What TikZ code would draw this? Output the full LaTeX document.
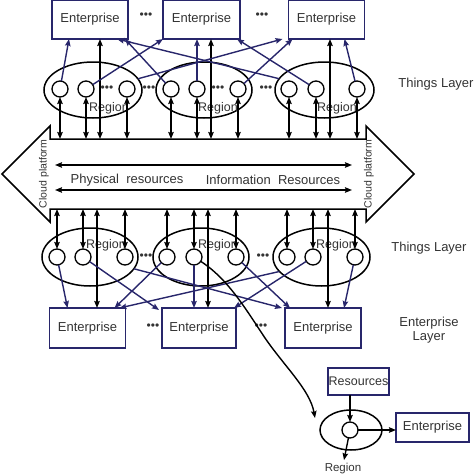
\documentclass[tikz,border=0pt]{standalone}
\usepackage{fontspec}
\setmainfont{Liberation Sans}
\usetikzlibrary{shapes.geometric,arrows.meta,calc}
\definecolor{navy}{HTML}{28266B}
\definecolor{txt}{HTML}{333333}
\begin{document}
\begin{tikzpicture}[x=1pt,y=-1pt,
  every node/.style={inner sep=0pt, outer sep=0pt, text=txt},
  tip/.tip={Stealth[length=7pt,width=5.5pt,inset=1pt]},
  ent/.style={draw=navy, line width=1.4pt, minimum width=76pt, minimum height=39pt, font=\fontsize{13}{15}\selectfont},
  reg/.style={draw, ellipse, line width=1.5pt, minimum width=98pt, minimum height=56pt},
  thing/.style={draw, circle, line width=1.3pt, minimum size=16pt},
  blk/.style={line width=1.4pt, tip-tip},
  blkone/.style={line width=1.4pt, -tip},
  blu/.style={draw=navy, line width=1.4pt, -tip},
  lbl/.style={font=\fontsize{13}{15}\selectfont},
  rlbl/.style={font=\fontsize{12.5}{14}\selectfont},
  dots/.style={font=\fontsize{12}{14}\selectfont},
]
\useasboundingbox (0,0) rectangle (474,474);

% ---------- top enterprises ----------
\node[ent] (T1) at (90,19.5) {Enterprise};
\node[ent, minimum width=77pt] (T2) at (201.5,19.5) {Enterprise};
\node[ent] (T3) at (326.5,19.5) {Enterprise};
\node[dots] (d1) at (146,16) {•••};
\node[dots] (d2) at (262,16) {•••};

% ---------- top things layer ----------
\node[reg] (TE1) at (93,90) {};
\node[reg, minimum width=96pt] (TE2) at (204,90) {};
\node[reg, minimum width=99pt] (TE3) at (324.5,90) {};
\node[thing] (t11) at (60,89) {};
\node[thing] (t12) at (86,89) {};
\node[thing] (t13) at (127,89) {};
\node[thing] (t21) at (171,89) {};
\node[thing] (t22) at (197,89) {};
\node[thing] (t23) at (238,89) {};
\node[thing] (t31) at (289,89) {};
\node[thing] (t32) at (316,89) {};
\node[thing] (t33) at (357,89) {};
\node[dots] (d3) at (107,89) {•••};
\node[dots] (d4) at (149,89) {•••};
\node[dots] (d5) at (218,89) {•••};
\node[dots] (d6) at (266,89) {•••};
\node[rlbl] (r1) at (109,108) {Region};
\node[rlbl] (r2) at (218,108) {Region};
\node[rlbl] (r3) at (337,108) {Region};
\node[lbl] (L1) at (436,84) {Things Layer};

% ---------- cloud platform ----------
\draw[line width=1.5pt, line join=miter]
  (2,174) -- (50,126) -- (50,139) -- (366,139) -- (366,126) -- (414,174)
  -- (366,222) -- (366,209) -- (50,209) -- (50,222) -- cycle;
\coordinate (ptop) at (208,139);
\coordinate (pbot) at (208,209);
\coordinate (a1l) at (55,165);
\coordinate (a1r) at (352,165);
\coordinate (a2l) at (55,190);
\coordinate (a2r) at (352,190);
\draw[blk] (a1l) -- (a1r);
\draw[blk] (a2l) -- (a2r);
\node[lbl] (phys) at (127,180) {Physical\ \ resources};
\node[lbl] (info) at (273,180) {Information\ \ Resources};
\node[font=\fontsize{10.5}{12}\selectfont, rotate=90] (cpl) at (44,174) {Cloud platform};
\node[font=\fontsize{10.5}{12}\selectfont, rotate=90] (cpr) at (369,174) {Cloud platform};

% ---------- bottom things layer ----------
\node[reg, minimum width=96pt, minimum height=58pt] (BE1) at (90,257) {};
\node[reg, minimum width=96pt, minimum height=58pt] (BE2) at (201,257) {};
\node[reg, minimum width=97pt, minimum height=58pt] (BE3) at (321.5,257) {};
\node[thing] (b11) at (57,257) {};
\node[thing] (b12) at (83,257) {};
\node[thing] (b13) at (125,257) {};
\node[thing] (b21) at (167,257) {};
\node[thing] (b22) at (194,257) {};
\node[thing] (b23) at (236,257) {};
\node[thing] (b31) at (287,257) {};
\node[thing] (b32) at (313,257) {};
\node[thing] (b33) at (355,257) {};
\node[dots] (d7) at (146,257) {•••};
\node[dots] (d8) at (263,257) {•••};
\node[rlbl] (r4) at (106,245) {Region};
\node[rlbl] (r5) at (218,245) {Region};
\node[rlbl] (r6) at (336,245) {Region};
\node[lbl] (L2) at (429,248) {Things Layer};

% ---------- bottom enterprises ----------
\node[ent, minimum height=40pt] (B1) at (87.5,328) {Enterprise};
\node[ent, minimum width=74pt, minimum height=40pt] (B2) at (199,328) {Enterprise};
\node[ent, minimum height=40pt] (B3) at (323,328) {Enterprise};
\node[dots] (d9) at (153,327) {•••};
\node[dots] (d10) at (261,327) {•••};
\node[lbl, align=center] (L3) at (429,330) {Enterprise\\[-1pt]Layer};

% ---------- black links, top ----------
\foreach \n in {t11,t12,t13,t21,t22,t23,t31,t32,t33}
  \draw[blk] (\n) -- (\n |- ptop);
\coordinate (v1) at ($(T1.south)+(10,0)$);
\coordinate (v2) at ($(T2.south)+(9.5,0)$);
\coordinate (v3) at ($(T3.south)+(3.5,0)$);
\foreach \v in {v1,v2,v3}
  \draw[blk] (\v) -- (\v |- ptop);

% ---------- black links, bottom ----------
\foreach \n in {b11,b12,b13,b21,b22,b23,b31,b32,b33}
  \draw[blk] (\n) -- (\n |- pbot);
\coordinate (w1) at ($(B1.north)+(9.5,0)$);
\coordinate (w2) at ($(B2.north)+(9,0)$);
\coordinate (w3) at ($(B3.north)+(5,0)$);
\foreach \w in {w1,w2,w3}
  \draw[blk] (\w |- pbot) -- (\w);

% ---------- blue links, top ----------
\draw[blu] (t11) -- ($(T1.south west)+(17,0)$);
\draw[blu] (t12) -- (T2.south west);
\draw[blu] (TE1.14) -- ($(T3.south west)+(-6,0)$);
\draw[blu] (t21) -- ($(T1.south east)+(-3,0)$);
\draw[blu] (TE3.166) -- ($(T1.south east)+(-11,0)$);
\draw[blu] (t22) -- (t22 |- T2.south);
\draw[blu] (t23) -- ($(T3.south west)+(4,0)$);
\draw[blu] (t32) -- ($(T2.south east)+(-3,0)$);
\draw[blu] (t33) -- ($(T3.south west)+(56,0)$);

% ---------- blue links, bottom ----------
\draw[blu] (b11) -- ($(B1.north west)+(18,0)$);
\draw[blu] (b12) -- ($(B2.north west)+(-3,2)$);
\draw[blu] (b21) -- ($(B1.north east)+(-11,0)$);
\draw[blu] (BE3.199) -- ($(B1.north east)+(-6,0)$);
\draw[blu] (BE1.-15) -- ($(B3.north west)+(-3,0)$);
\draw[blu] (b22) -- (b22 |- B2.north);
\draw[blu] (b23) -- ($(B3.north west)+(5,0)$);
\draw[blu] (b32) -- ($(B2.north east)+(-2,0)$);
\draw[blu] (b33) -- ($(B3.north west)+(59,0)$);

% ---------- detail at bottom right ----------
\node[draw=navy, line width=1.4pt, minimum width=61pt, minimum height=27pt,
      font=\fontsize{12.5}{14}\selectfont] (Res) at (358.5,381.5) {Resources};
\node[draw, ellipse, line width=1.5pt, minimum width=62pt, minimum height=40pt] (SE) at (351,430) {};
\node[thing] (sc) at (350,430) {};
\node[draw=navy, line width=1.4pt, minimum width=73pt, minimum height=29pt,
      font=\fontsize{13}{15}\selectfont] (SEnt) at (432.5,427.5) {Enterprise};
\node[font=\fontsize{11.5}{13}\selectfont] (sreg) at (343,468.5) {Region};
\draw[blkone] (Res.south -| sc) -- (sc);
\draw[blkone] (sc) -- (SEnt.west |- sc);
\draw[blkone] (sc) -- ($(sreg.north)+(1,-3)$);
\coordinate (cend) at (315,418);
\draw[blkone] (b22) .. controls (228,279) and (245,308) .. (265,338)
  .. controls (285,367) and (310,390) .. (cend);
\end{tikzpicture}
\end{document}
